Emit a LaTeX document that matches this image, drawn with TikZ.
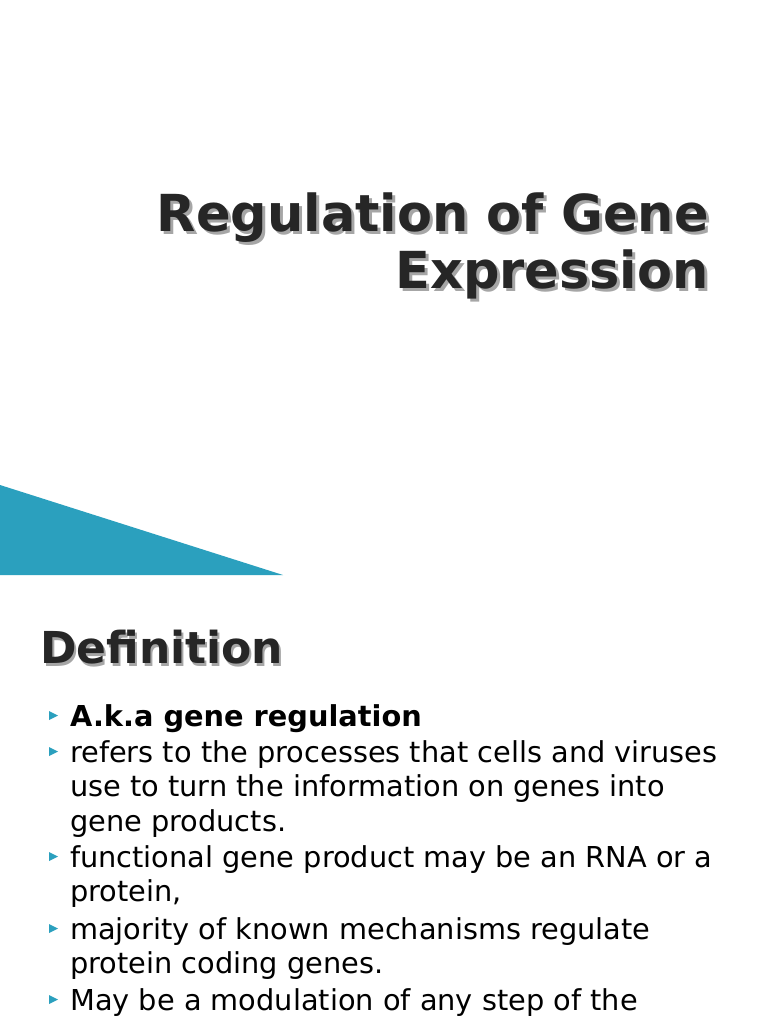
\documentclass[tikz,border=0pt]{standalone}
\usepackage{fontspec}
\setmainfont{DejaVu Sans}
\definecolor{teal1}{RGB}{43,160,190}
\begin{document}
\begin{tikzpicture}[x=1pt,y=-1pt,
  title/.style={font=\fontsize{51}{56}\selectfont\bfseries,anchor=base east,inner sep=0},
  head/.style={font=\fontsize{44}{50}\selectfont\bfseries,anchor=base west,inner sep=0},
  body/.style={font=\fontsize{28.8}{34.5}\selectfont,anchor=base west,inner sep=0}]
\useasboundingbox (0,0) rectangle (768,1024);
\fill[white] (0,0) rectangle (768,1024);
\fill[teal1] (0,485) -- (283,575) -- (0,575) -- cycle;
% title
\foreach \t/\y/\n in {Regulation of Gene/232/t1,Expression/288/t2}{
  \node[title,text=gray!70] at (712,\y+3) {\t};
  \node[title,text=black!85] (\n) at (709,\y) {\t};
}
\node[head,text=gray!70] at (42,666) {Definition};
\node[head,text=black!85] (def) at (40,663) {Definition};
% bullets
\foreach \y in {726,762,867,939,1010}{
  \fill[teal1] (49,\y-15) -- (58,\y-10.5) -- (49,\y-6) -- cycle;
}
\node[body,font=\fontsize{28.8}{34.5}\selectfont\bfseries] (b1) at (70,726) {A.k.a gene regulation};
\node[body] (b2a) at (70,762) {refers to the processes that cells and viruses};
\node[body] (b2b) at (70,796) {use to turn the information on genes into};
\node[body] (b2c) at (70,831) {gene products.};
\node[body] (b3a) at (70,867) {functional gene product may be an RNA or a};
\node[body] (b3b) at (70,901) {protein,};
\node[body] (b4a) at (70,939) {majority of known mechanisms regulate};
\node[body] (b4b) at (70,973) {protein coding genes.};
\node[body] (b5) at (70,1010) {May be a modulation of any step of the};
\end{tikzpicture}
\end{document}
